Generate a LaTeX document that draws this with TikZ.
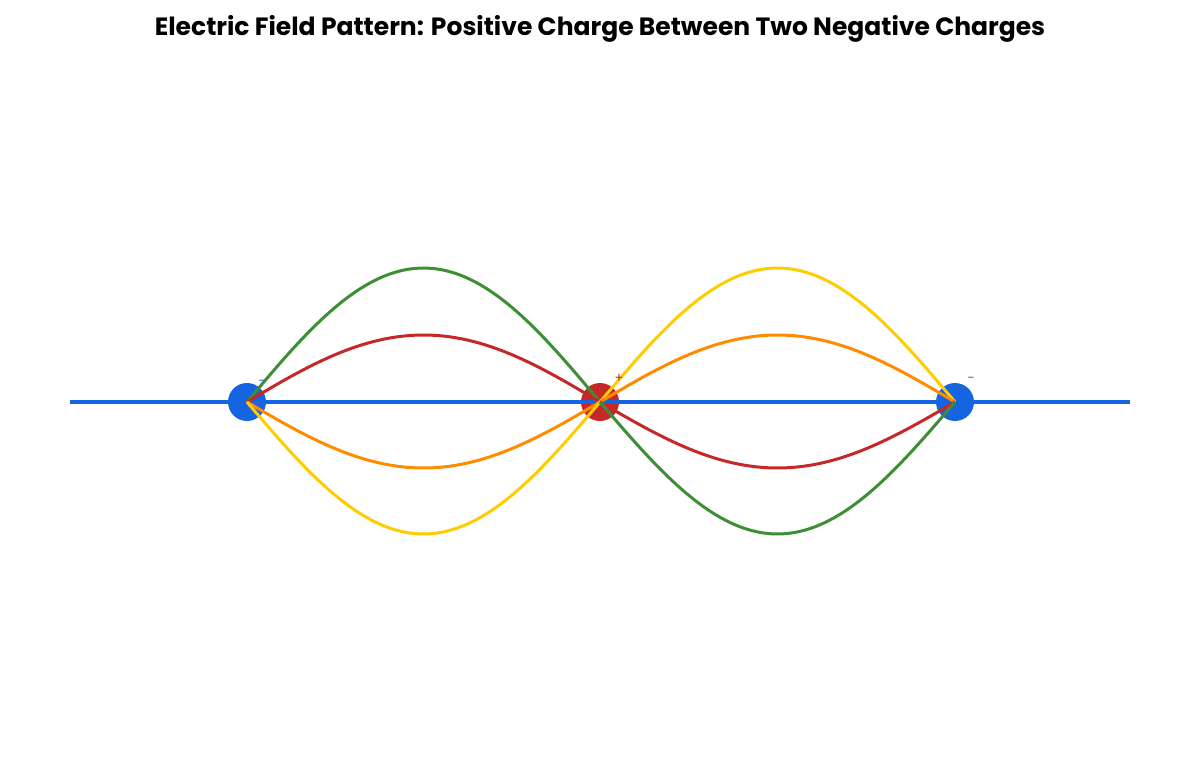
\documentclass[tikz,border=0pt]{standalone}
\usepackage{fontspec}
\setmainfont{Poppins}
\definecolor{cblue}{HTML}{1565E0}
\definecolor{cred}{HTML}{C62828}
\definecolor{cgreen}{HTML}{3E8E35}
\definecolor{corange}{HTML}{FF8C00}
\definecolor{cyellow}{HTML}{FFCC00}
\tikzset{
  charge/.style={circle,inner sep=0pt,minimum size=38pt},
  fl/.style={line width=3pt},
  lbl/.style={font=\fontsize{13}{13}\selectfont,inner sep=0pt}
}
\begin{document}
\begin{tikzpicture}[x=1pt,y=-1pt]
\useasboundingbox (0,0) rectangle (1200,763);
\node[font=\fontsize{25}{25}\selectfont\bfseries] (title) at (600,29) {Electric Field Pattern: Positive Charge Between Two Negative Charges};
\node[charge,fill=cblue] (L) at (247,402) {};
\node[charge,fill=cred] (C) at (600,402) {};
\node[charge,fill=cblue] (R) at (955,402) {};
\coordinate (a0) at (70,402);
\coordinate (a1) at (1130,402);
\draw[cblue,line width=4pt] (a0) -- (a1);
\foreach \h/\c in {-134/cgreen,-67/cred,66/corange,132/cyellow}{
  \draw[fl,\c] plot[domain=0:180,samples=60] ({247+1.9611*\x},{402+\h*sin(\x)});
}
\foreach \h/\c in {-134/cyellow,-67/corange,66/cred,132/cgreen}{
  \draw[fl,\c] plot[domain=0:180,samples=60] ({600+1.9722*\x},{402+\h*sin(\x)});
}
\node[lbl,cblue] (lm) at (262,383) {−};
\node[lbl,cred] (cp) at (619,378) {+};
\node[lbl,cblue] (rm) at (971,380) {−};
\end{tikzpicture}
\end{document}
